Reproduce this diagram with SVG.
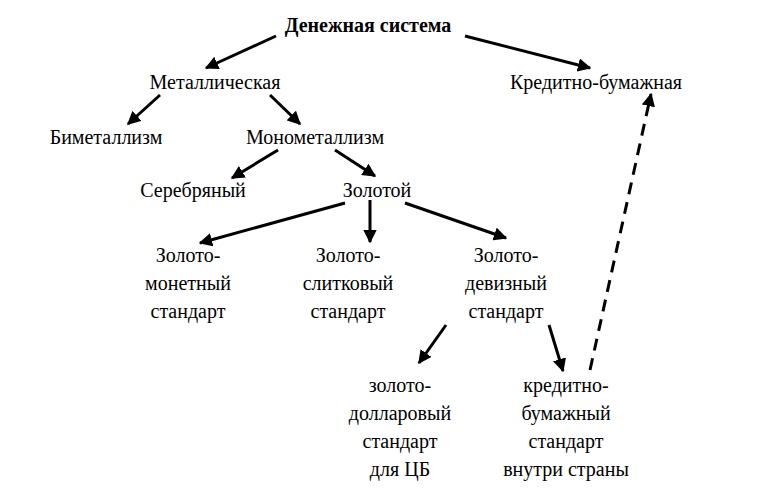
<svg xmlns="http://www.w3.org/2000/svg" width="768" height="500" viewBox="0 0 768 500">
<style>
text{font-family:"Liberation Serif","Times New Roman",serif;font-size:20px;fill:#000;text-anchor:middle}
.b{font-weight:bold}
.c line{stroke:#000;stroke-width:3;marker-end:url(#a)}
.d{stroke-dasharray:12,8}
</style>
<defs><marker id="a" viewBox="0 0 10 10" refX="9" refY="5" markerWidth="4.5" markerHeight="4.5" orient="auto" markerUnits="strokeWidth"><path d="M0,0L10,5L0,10z" fill="#000"/></marker></defs>
<rect width="768" height="500" fill="#fff"/>
<g id="n1"><text x="368" y="32" class="b">Денежная система</text></g>
<g id="n2"><text x="215" y="89">Металлическая</text></g>
<g id="n3"><text x="596" y="89">Кредитно-бумажная</text></g>
<g id="n4"><text x="106" y="144">Биметаллизм</text></g>
<g id="n5"><text x="315" y="144">Монометаллизм</text></g>
<g id="n6"><text x="193" y="197">Серебряный</text></g>
<g id="n7"><text x="377" y="197">Золотой</text></g>
<g id="n8"><text x="188" y="262">Золото-</text><text x="188" y="290">монетный</text><text x="188" y="318">стандарт</text></g>
<g id="n9"><text x="348" y="262">Золото-</text><text x="348" y="290">слитковый</text><text x="348" y="318">стандарт</text></g>
<g id="n10"><text x="506" y="262">Золото-</text><text x="506" y="290">девизный</text><text x="506" y="318">стандарт</text></g>
<g id="n11"><text x="400" y="392">золото-</text><text x="400" y="420">долларовый</text><text x="400" y="448">стандарт</text><text x="400" y="476">для ЦБ</text></g>
<g id="n12"><text x="566" y="392">кредитно-</text><text x="566" y="420">бумажный</text><text x="566" y="448">стандарт</text><text x="566" y="476">внутри страны</text></g>
<g class="c">
<line x1="276" y1="36" x2="206" y2="68"/>
<line x1="465" y1="36" x2="590" y2="68"/>
<line x1="160" y1="95" x2="128" y2="124"/>
<line x1="270" y1="95" x2="300" y2="124"/>
<line x1="278" y1="150" x2="232" y2="178"/>
<line x1="335" y1="150" x2="375" y2="176"/>
<line x1="345" y1="203" x2="200" y2="243"/>
<line x1="370" y1="200" x2="370" y2="242"/>
<line x1="405" y1="203" x2="506" y2="238"/>
<line x1="446" y1="325" x2="419" y2="363"/>
<line x1="549" y1="325" x2="563" y2="371"/>
<line class="d" x1="590" y1="370" x2="651" y2="94"/>
</g>
</svg>
